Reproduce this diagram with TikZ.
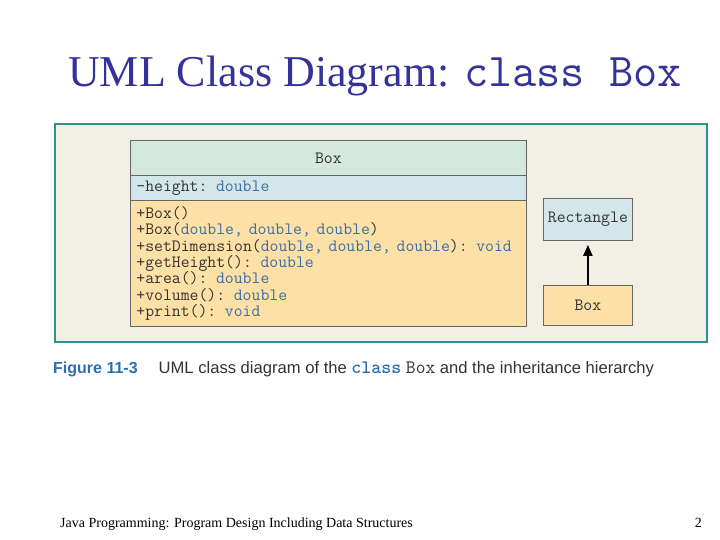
\documentclass[tikz,border=0pt]{standalone}
\usepackage{fontspec}
\setmainfont{Liberation Serif}
\setsansfont{Liberation Sans}
\usetikzlibrary{arrows.meta,positioning}
\definecolor{titleblue}{HTML}{333399}
\definecolor{panelline}{HTML}{2E9090}
\definecolor{panelfill}{HTML}{F2F0E5}
\definecolor{headfill}{HTML}{D4E8E0}
\definecolor{attrfill}{HTML}{D3E6EA}
\definecolor{methfill}{HTML}{FDE0A6}
\definecolor{typeblue}{HTML}{3A6EA5}
\definecolor{codegray}{HTML}{333333}
\definecolor{capblue}{HTML}{2A6FB0}
\newcommand{\ty}[1]{\textcolor{typeblue}{#1}}
\newcommand{\codesize}{\fontsize{17.25}{16.3}\selectfont}
\newcommand{\capcode}{\ttfamily\fontsize{19}{17}\selectfont}

\begin{document}
\begin{tikzpicture}[x=1pt,y=-1pt,
  compart/.style={draw=black!60,line width=0.8pt,rectangle,inner sep=0pt,
    minimum width=396pt,anchor=north west,text=codegray,font=\ttfamily\codesize},
  smallbox/.style={draw=black!60,line width=0.8pt,rectangle,inner sep=0pt,
    minimum width=89pt,anchor=north west,text=codegray,font=\ttfamily\codesize}]
\useasboundingbox[fill=white](0,0)rectangle(720,540);
% title
\node[anchor=base west,text=titleblue,inner sep=0pt](title)at(68,87)
  {\fontsize{44}{44}\selectfont UML Class Diagram: {\ttfamily\fontsize{47}{47}\selectfont class Box}};
% figure panel
\draw[panelline,fill=panelfill,line width=2pt](55,124)rectangle(707,342);
\node[compart,fill=headfill,minimum height=35pt](head)at(130,140){Box};
\node[compart,fill=attrfill,minimum height=25pt,text width=384pt,align=left](attr)at(130,175)
  {-height: \ty{double}};
\node[compart,fill=methfill,minimum height=126pt,text width=384pt,align=left](meth)at(130,200)
  {+Box()\\
   +Box(\ty{double, double, double})\\
   +setDimension(\ty{double, double, double}): \ty{void}\\
   +getHeight(): \ty{double}\\
   +area(): \ty{double}\\
   +volume(): \ty{double}\\
   +print(): \ty{void}};
\node[smallbox,fill=attrfill,minimum height=42pt](rect)at(543,198){Rectangle};
\node[smallbox,fill=methfill,minimum height=40pt](box)at(543,285){Box};
\draw[-{Triangle[length=11pt,width=9pt]},line width=2pt,shorten >=4pt](box)--(rect);
% caption
\node[anchor=base west,inner sep=0pt,text=black!80,font=\sffamily\fontsize{16.6}{17}\selectfont](caption)at(53,373)
  {\textcolor{capblue}{\fontsize{16}{17}\selectfont\bfseries Figure 11-3}\hspace{21pt}UML class diagram of the
   {\capcode\bfseries\textcolor{capblue}{class}} {\capcode Box} and the inheritance hierarchy};
% footer
\node[anchor=base west,inner sep=0pt,font=\fontsize{14}{14}\selectfont](footer)at(60,527)
  {Java Programming: Program Design Including Data Structures};
\node[anchor=base east,inner sep=0pt,font=\fontsize{14}{14}\selectfont](page)at(702,527){2};
\end{tikzpicture}
\end{document}
